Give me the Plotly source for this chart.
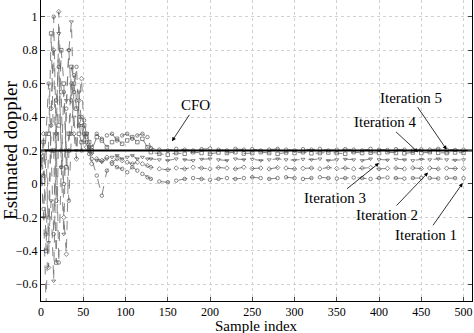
import plotly.graph_objects as go

# Sample indices at which the estimates are plotted
x_early = [0, 3, 6, 9, 12, 15, 18, 21, 24, 27, 30, 33, 36, 39, 42, 45, 48, 51, 54, 57, 60]
x_mid = [66, 72, 78, 84, 90, 96, 102, 108, 114, 120, 126]
x_late = [130, 140, 150, 160, 170, 180, 190, 200, 210, 220,
          230, 240, 250, 260, 270, 280, 290, 300, 310, 320,
          330, 340, 350, 360, 370, 380, 390, 400, 410, 420,
          430, 440, 450, 460, 470, 480, 490, 500]

# Iteration 1
it1_early = [0.05, -0.15, -0.72, -0.2, 0.35, 1.0, 0.3, -0.47, 0.1, 0.55, 0.2,
             -0.1, 0.3, 0.55, 0.7, 0.4, 0.2, 0.3, 0.25, 0.18, 0.15]
it1_mid = [0.05, -0.07, 0.08, 0.12, 0.1, 0.09, 0.07, 0.1, 0.08, 0.06, 0.04]
it1_late = [0.03, 0.015, 0.01, 0.02, 0.03, 0.035, 0.03, 0.025, 0.03, 0.035,
            0.03, 0.035, 0.04, 0.035, 0.03, 0.035, 0.04, 0.035, 0.03, 0.035,
            0.04, 0.035, 0.032, 0.035, 0.038, 0.035, 0.03, 0.035, 0.038, 0.035,
            0.032, 0.035, 0.037, 0.035, 0.033, 0.036, 0.035, 0.034]

# Iteration 2
it2_early = [0.0, 0.3, -0.3, -0.5, 0.45, 0.8, -0.1, 1.03, 0.55, -0.2, -0.42,
             0.2, 0.6, 0.3, 0.15, 0.5, 0.63, 0.3, 0.22, 0.2, 0.12]
it2_mid = [0.15, 0.14, 0.16, 0.13, 0.15, 0.14, 0.13, 0.12, 0.13, 0.12, 0.11]
it2_late = [0.1, 0.09, 0.085, 0.095, 0.09, 0.1, 0.095, 0.09, 0.098, 0.095,
            0.09, 0.1, 0.092, 0.095, 0.09, 0.098, 0.095, 0.09, 0.093, 0.095,
            0.09, 0.098, 0.092, 0.095, 0.09, 0.095, 0.098, 0.09, 0.093, 0.095,
            0.09, 0.096, 0.092, 0.095, 0.09, 0.094, 0.092, 0.093]

# Iteration 3
it3_early = [0.15, -0.2, 0.2, -0.35, -0.1, -0.58, 0.3, 0.9, 0.1, -0.3, 0.5,
             0.8, 0.97, 0.4, 0.2, 0.55, 0.35, 0.25, 0.3, 0.22, 0.18]
it3_mid = [0.14, 0.13, 0.15, 0.16, 0.17, 0.15, 0.16, 0.17, 0.15, 0.16, 0.15]
it3_late = [0.15, 0.145, 0.14, 0.15, 0.145, 0.14, 0.148, 0.15, 0.145, 0.14,
            0.15, 0.145, 0.148, 0.14, 0.145, 0.15, 0.145, 0.142, 0.148, 0.145,
            0.15, 0.14, 0.145, 0.148, 0.145, 0.14, 0.15, 0.145, 0.143, 0.148,
            0.145, 0.14, 0.147, 0.145, 0.15, 0.145, 0.142, 0.145]

# Iteration 4
it4_early = [0.1, 0.25, -0.4, 0.3, 0.9, 0.2, -0.47, 0.35, 0.8, 0.6, 0.1,
             0.3, 0.7, 0.6, 0.45, 0.3, 0.25, 0.35, 0.3, 0.25, 0.2]
it4_mid = [0.28, 0.26, 0.22, 0.25, 0.27, 0.24, 0.26, 0.28, 0.25, 0.27, 0.22]
it4_late = [0.19, 0.18, 0.175, 0.185, 0.18, 0.19, 0.185, 0.18, 0.188, 0.185,
            0.19, 0.182, 0.185, 0.19, 0.185, 0.18, 0.188, 0.185, 0.19, 0.183,
            0.185, 0.188, 0.185, 0.18, 0.19, 0.185, 0.187, 0.185, 0.19, 0.185,
            0.183, 0.188, 0.185, 0.19, 0.186, 0.185, 0.188, 0.186]

# Iteration 5
it5_early = [0.18, 0.05, 0.3, 0.6, 0.2, -0.3, 0.5, 0.7, 0.2, 0.0, 0.45,
             0.8, 0.5, 0.65, 0.5, 0.35, 0.4, 0.38, 0.28, 0.22, 0.22]
it5_mid = [0.3, 0.27, 0.29, 0.3, 0.26, 0.29, 0.3, 0.27, 0.29, 0.3, 0.28]
it5_late = [0.215, 0.205, 0.2, 0.21, 0.205, 0.2, 0.208, 0.212, 0.205, 0.2,
            0.21, 0.205, 0.208, 0.2, 0.205, 0.21, 0.205, 0.2, 0.208, 0.205,
            0.21, 0.2, 0.205, 0.208, 0.205, 0.2, 0.21, 0.205, 0.203, 0.208,
            0.205, 0.2, 0.207, 0.205, 0.21, 0.205, 0.203, 0.205]

cfo_value = 0.2
cfo_x = [0, 510]

x_ticks = [0, 50, 100, 150, 200, 250, 300, 350, 400, 450, 500]
y_ticks = [-0.6, -0.4, -0.2, 0, 0.2, 0.4, 0.6, 0.8, 1]
y_tick_text = ["\u22120.6", "\u22120.4", "\u22120.2", "0", "0.2", "0.4", "0.6", "0.8", "1"]

series = [
    ("Iteration 1", it1_early + it1_mid + it1_late, "circle-open"),
    ("Iteration 2", it2_early + it2_mid + it2_late, "diamond-open"),
    ("Iteration 3", it3_early + it3_mid + it3_late, "triangle-down-open"),
    ("Iteration 4", it4_early + it4_mid + it4_late, "square-open"),
    ("Iteration 5", it5_early + it5_mid + it5_late, "circle-open"),
]
xs = x_early + x_mid + x_late

FONT = "Liberation Serif"

fig = go.Figure()
for name, ys, sym in series:
    fig.add_trace(go.Scatter(
        x=xs, y=ys, mode="lines+markers", name=name,
        line=dict(color="#777777", width=0.9, dash="dash"),
        marker=dict(symbol=sym, size=3.5, color="#555555", line=dict(width=0.7)),
        showlegend=False,
    ))

fig.add_trace(go.Scatter(
    x=cfo_x, y=[cfo_value, cfo_value], mode="lines",
    line=dict(color="black", width=1.8), showlegend=False,
))

annotations = [
    ("CFO", 183, 0.47, 155, 0.256),
    ("Iteration 5", 438, 0.516, 480, 0.205),
    ("Iteration 4", 408, 0.368, 446, 0.19),
    ("Iteration 3", 348, -0.086, 400, 0.125),
    ("Iteration 2", 410, -0.186, 458, 0.068),
    ("Iteration 1", 456, -0.304, 499, 0.005),
]
for text, tx, ty, px, py in annotations:
    fig.add_annotation(
        x=px, y=py, ax=tx, ay=ty, xref="x", yref="y", axref="x", ayref="y",
        text=text, showarrow=True, arrowhead=2, arrowsize=1, arrowwidth=0.8,
        arrowcolor="black", font=dict(family=FONT, size=15, color="black"),
    )

# x-axis title placed below the tick labels
fig.add_annotation(
    text="Sample index", xref="paper", yref="paper", x=0.5, y=-0.082,
    xanchor="center", yanchor="middle", showarrow=False,
    font=dict(family=FONT, size=15, color="black"),
)

fig.update_layout(
    width=474, height=333,
    margin=dict(l=41, r=2, t=0, b=32),
    paper_bgcolor="white", plot_bgcolor="white",
    font=dict(family=FONT, color="black", size=12),
    xaxis=dict(
        range=[0, 510], tickvals=x_ticks, ticks="inside", ticklen=4,
        showline=True, linecolor="black", linewidth=1, mirror=False,
        showgrid=True, gridcolor="#d0d0d0", griddash="dot", gridwidth=1,
        zeroline=False, tickfont=dict(family=FONT, size=12, color="black"),
    ),
    yaxis=dict(
        range=[-0.7, 1.1], tickvals=y_ticks, ticktext=y_tick_text,
        ticks="inside", ticklen=4,
        showline=True, linecolor="black", linewidth=1, mirror="ticks",
        showgrid=True, gridcolor="#d0d0d0", griddash="dot", gridwidth=1,
        zeroline=False, tickfont=dict(family=FONT, size=12, color="black"),
        title=dict(text="Estimated doppler", font=dict(family=FONT, size=19), standoff=4),
    ),
)

fig.write_html("out.html")
